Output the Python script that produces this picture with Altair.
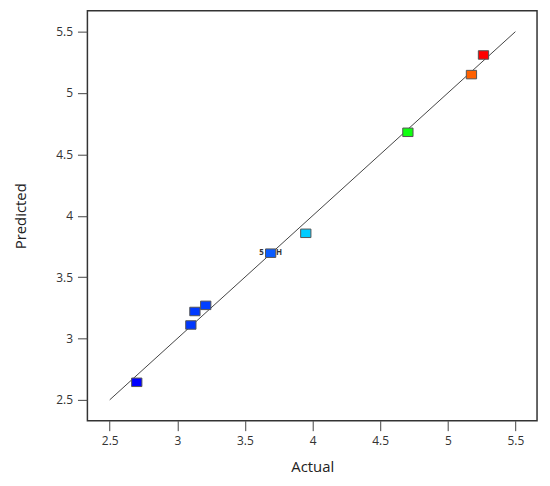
import altair as alt
import pandas as pd

actual = [2.70, 3.10, 3.13, 3.21, 3.69, 3.95, 4.705, 5.175, 5.264]
predicted = [2.643, 3.11, 3.22, 3.27, 3.695, 3.857, 4.68, 5.15, 5.31]
ticks = [2.5, 3.0, 3.5, 4.0, 4.5, 5.0, 5.5]
line_x = [2.5, 5.5]
line_y = [2.5, 5.5]
label_x = [3.69]
label_y = [3.695]
label_text = ["5\u00a0\u00a0\u00a0\u00a0\u00a0\u00a0H"]

pts = pd.DataFrame({"actual": actual, "predicted": predicted})
line_df = pd.DataFrame({"actual": line_x, "predicted": line_y})
lab_df = pd.DataFrame({"actual": label_x, "predicted": label_y, "t": label_text})

font = "Open Sans"
xdom = [2.335, 5.66]
ydom = [2.33, 5.67]

xenc = alt.X("actual:Q", scale=alt.Scale(domain=xdom, nice=False, zero=False),
             axis=alt.Axis(values=ticks, format="~g", title="Actual", grid=False,
                           tickSize=10, labelPadding=5, titlePadding=13,
                           labelFontSize=12, titleFontSize=15, labelColor="#333",
                           titleColor="#222", tickColor="#444", domain=False,
                           titleFontWeight="normal", labelFont=font, titleFont=font))
yenc = alt.Y("predicted:Q", scale=alt.Scale(domain=ydom, nice=False, zero=False),
             axis=alt.Axis(values=ticks, format="~g", title="Predicted", grid=False,
                           tickSize=10, labelPadding=5, titlePadding=27,
                           labelFontSize=12, titleFontSize=15, labelColor="#333",
                           titleColor="#222", tickColor="#444", domain=False,
                           titleFontWeight="normal", labelFont=font, titleFont=font))

line = alt.Chart(line_df).mark_line(color="#444", strokeWidth=1).encode(x=xenc, y=yenc)

text = alt.Chart(lab_df).mark_text(fontSize=8, font=font, color="#333", fontWeight="bold").encode(
    x="actual:Q", y="predicted:Q", text="t:N")

points = alt.Chart(pts).mark_point(
    shape="M-1.15,-0.95H1.15V0.95H-1.15Z", size=81, filled=True, opacity=1,
    stroke="#555", strokeWidth=1
).encode(
    x="actual:Q", y="predicted:Q",
    color=alt.Color("actual:Q", legend=None,
                    scale=alt.Scale(domain=[2.7, 3.69, 3.95, 4.705, 5.175, 5.264],
                                    range=["#0000ff", "#0a5cff", "#00ccff", "#10ff10", "#ff6000", "#ff0000"]))
)

chart = alt.layer(line, text, points).properties(
    width=453, height=413,
    autosize=alt.AutoSizeParams(type="none"),
    padding={"left": 80, "top": 1, "right": 5, "bottom": 70},
    background="white",
).configure_view(stroke="#333", strokeWidth=1.5)

chart.save("out.html", embed_options={"renderer": "svg", "actions": False})
